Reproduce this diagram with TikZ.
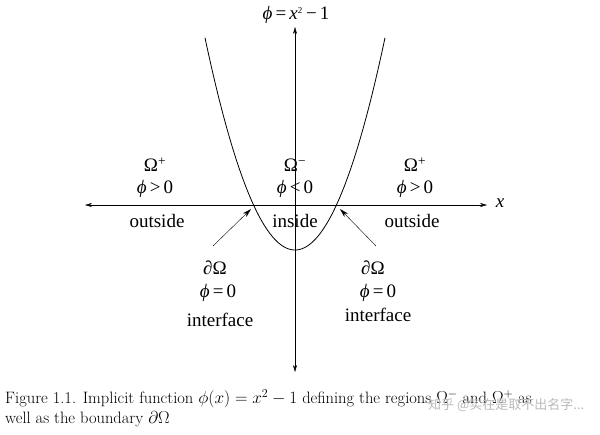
\documentclass[tikz,border=0pt]{standalone}
\usepackage{fontspec}
\newfontfamily\tms{Liberation Serif}
\newfontfamily\cjk{Noto Sans CJK SC}
\usetikzlibrary{arrows.meta}
\newcommand{\ph}{{\itshape ϕ}}
\begin{document}
\begin{tikzpicture}[x=1pt,y=-1pt,
  lab/.style={font=\tms\fontsize{19}{22}\selectfont,inner sep=0pt},
  ax/.style={{Stealth[length=7pt,width=4pt]}-{Stealth[length=7pt,width=4pt]},thin},
  arr/.style={-{Stealth[length=9pt,width=5pt]},thin}]
\useasboundingbox (0,0) rectangle (600,434);
\coordinate (xl) at (85,205); \coordinate (xr) at (487,205);
\coordinate (yt) at (295,27); \coordinate (yb) at (295,372);
\draw[ax] (xl) -- (xr);
\draw[ax] (yt) -- (yb);
\draw[thick] plot[domain=-90:90,samples=120,smooth] ({295+\x},{250-0.0262*\x*\x});
\node[lab] (xlab) at (500,203) {\itshape x};
\node[lab] (title) at (296,15) {\ph\,=\,{\itshape x}\textsuperscript{\small 2}\,−\,1};
\node[lab] (o1) at (155,165) {Ω\textsuperscript{+}};
\node[lab] (p1) at (155,189) {\ph\,>\,0};
\node[lab] (t1) at (157,221) {outside};
\node[lab] (o2) at (295,165) {Ω\textsuperscript{−}};
\node[lab] (p2) at (295,189) {\ph\,<\,0};
\node[lab] (t2) at (295,221) {inside};
\node[lab] (o3) at (415,165) {Ω\textsuperscript{+}};
\node[lab] (p3) at (415,189) {\ph\,>\,0};
\node[lab] (t3) at (412,221) {outside};
\node[lab] (d1) at (215,268) {∂Ω};
\node[lab] (q1) at (218,293) {\ph\,=\,0};
\node[lab] (i1) at (220,320) {interface};
\node[lab] (d2) at (373,268) {∂Ω};
\node[lab] (q2) at (378,293) {\ph\,=\,0};
\node[lab] (i2) at (378,315) {interface};
\coordinate (a1) at (251,209); \coordinate (a2) at (340,209);
\draw[arr] (213,246) -- (a1);
\draw[arr] (376,246) -- (a2);
\node[anchor=west,inner sep=0pt,font=\fontsize{16.5}{20}\selectfont,align=left] (cap) at (5,408)
 {Figure 1.1. Implicit function $\phi(x)=x^2-1$ defining the regions $\Omega^-$ and $\Omega^+$ as\\ well as the boundary $\partial\Omega$};
\node[anchor=west,inner sep=0pt,text=gray!55,font=\cjk\fontsize{13}{15}\selectfont] (wm) at (428,405) {知乎 @实在是取不出名字...};
\end{tikzpicture}
\end{document}
